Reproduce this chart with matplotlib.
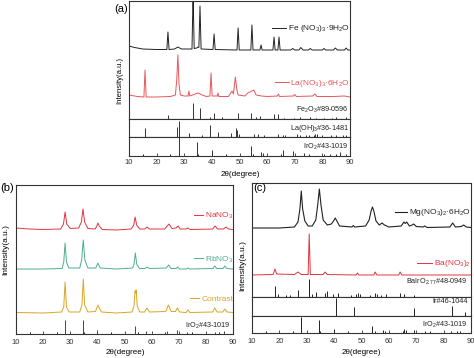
import matplotlib
matplotlib.use("Agg")
import matplotlib.pyplot as plt
from matplotlib.legend import Legend

plt.rcParams['font.family'] = ['Liberation Sans', 'DejaVu Sans', 'Noto Sans CJK SC']
plt.rcParams['mathtext.fontset'] = 'custom'
plt.rcParams['mathtext.rm'] = 'Liberation Sans'
plt.rcParams['mathtext.it'] = 'Liberation Sans:italic'
plt.rcParams['mathtext.bf'] = 'Liberation Sans:bold'

W, H = 474, 358

# ---------------- panel (a) data: (2theta, intensity a.u.) ----------------
fe_nitrate = [(10, 73), (12, 71.5), (15, 70), (20, 69.5), (23.7, 69.5), (24.1, 87), (24.5, 69.5),
              (26.5, 70), (27.7, 72), (29, 70), (32.8, 70), (33.2, 125), (33.6, 70.5), (34.5, 71),
              (35.0, 72), (35.3, 71.5), (35.7, 113), (36.1, 70), (40.4, 69.5), (40.8, 85), (41.2, 69.5),
              (49.1, 69), (49.5, 91), (49.9, 69), (54.1, 69), (54.5, 94), (54.9, 69), (57.4, 69),
              (57.8, 74), (58.2, 69), (62.1, 69), (62.5, 82), (62.9, 69), (63.9, 69), (64.3, 82),
              (64.7, 69), (68.5, 69), (69.3, 70.5), (70, 69), (71.5, 69), (72.2, 71.5), (73, 69),
              (75, 69), (75.6, 70.5), (76.3, 69), (80, 69), (80.6, 70.5), (81.2, 69), (84, 69),
              (84.7, 71), (85.4, 69), (88, 69), (88.6, 71), (89.2, 69), (90, 69)]
la_nitrate = [(10, 24), (13, 22.5), (15.4, 22), (15.8, 49), (16.2, 22), (20, 22), (25, 22.5),
              (26.8, 24), (27.3, 40), (27.7, 64), (28.1, 35), (28.6, 24), (30, 23), (31.4, 23),
              (31.7, 28), (32.0, 23), (33, 24), (35, 26), (36.5, 24), (38, 22.5), (39.3, 23),
              (39.7, 46), (40.1, 23), (42.0, 23), (42.2, 26), (42.5, 22.5), (46, 22.5), (47.3, 28),
              (47.8, 25), (48.5, 42), (49.0, 30), (49.5, 24), (52, 23), (53, 26), (55.2, 29), (56, 24),
              (58, 23), (60, 22.5), (63.7, 23), (64.1, 25), (64.5, 22.5), (69.5, 23), (70, 24.5),
              (70.6, 22.5), (76.5, 23), (77.3, 25), (78, 22.5), (84, 22.5), (88, 23), (90, 22)]
fe2o3_pos = [24.1, 33.2, 35.6, 39.3, 40.8, 43.5, 49.5, 54.1, 56.0, 57.6, 62.4, 64.0, 66.0,
             69.6, 71.9, 75.4, 77.7, 80.7, 83.5, 84.9, 88.5]
fe2o3_int = [4, 16, 11, 2, 6, 2, 6, 6, 2, 3, 5, 5, 1.5, 1.5, 2, 2, 1.5, 1.5, 1.5, 2, 2]
laoh3_pos = [15.7, 27.3, 28.0, 31.7, 36.4, 39.5, 42.2, 47.0, 48.6, 49.0, 49.9, 55.3, 56.8, 58.8,
             64.0, 65.6, 66.5, 70.7, 71.9, 74.0, 75.3, 76.8, 77.5, 78.0, 80.0, 83.0, 85.0, 87.3, 88.5]
laoh3_int = [9, 10, 16, 4, 2, 12, 5, 4, 9, 7, 3, 3, 3, 2, 3, 2, 2, 3, 2, 2, 2, 2, 3, 3, 2, 2, 2, 2, 2]
iro2_pos = [28.0, 34.7, 40.0, 54.0, 57.8, 58.6, 65.7, 69.3, 73.3, 80.6, 82.9, 86.5, 88.4]
iro2_int_a = [19, 14, 6, 10, 4, 3, 6, 5, 3, 2, 2, 4, 2]

# ---------------- panel (b) data ----------------
na_nitrate = [(10, 106), (15, 105), (20, 104.5), (26.5, 105), (27.5, 110), (28.1, 122), (28.7, 110),
              (30, 105.5), (33.1, 106), (34.1, 112), (34.7, 125), (35.3, 112), (36.5, 105.5),
              (39.2, 105), (39.8, 108), (40.2, 111), (40.7, 108), (41.8, 104.5), (47, 104), (52.5, 105),
              (53.4, 109), (53.9, 117), (54.5, 109), (55.6, 105), (57.5, 105), (58.3, 107), (59.2, 105),
              (64.8, 105), (66.4, 110), (67.5, 105.5), (69.0, 106), (69.7, 108), (70.5, 105), (72.7, 105),
              (73.4, 106), (74.2, 104.5), (82.5, 105), (83.4, 108), (84.3, 105), (86.5, 105), (87.4, 107),
              (88.3, 105), (90, 104.5)]
rb_nitrate = [(10, 65), (20, 65), (27, 65.5), (27.6, 72), (28.1, 91), (28.6, 72), (29.5, 66), (33.5, 66),
              (34.2, 74), (34.8, 94), (35.4, 74), (36.5, 66), (39.4, 66), (40.2, 71), (41, 66), (47, 65),
              (53, 66), (53.5, 70), (54, 81), (54.5, 70), (55.5, 65.5), (57.5, 65.5), (58.3, 67),
              (59.2, 65.5), (65.4, 66), (66.3, 69), (67.2, 65.5), (69, 65.5), (69.6, 67), (70.3, 65),
              (72.8, 65), (73.4, 66), (74, 65), (82.6, 65.5), (83.3, 68), (84, 65.5), (86.3, 65.5),
              (87, 68), (87.7, 65.5), (90, 65)]
contrast = [(10, 21.5), (20, 21), (26.8, 22), (27.6, 27), (28.1, 52), (28.6, 27), (29.6, 22), (33.5, 22),
            (34.3, 29), (34.8, 55), (35.3, 29), (36.5, 22), (39.3, 22.5), (39.8, 26), (40.2, 29),
            (40.7, 26), (41.5, 22), (47, 21), (52.8, 22), (53.5, 28), (53.9, 43), (54.1, 41), (54.3, 44),
            (54.7, 28), (55.6, 22), (57.4, 22), (58.3, 26), (59.2, 22), (65.2, 22.5), (66.2, 29),
            (67.2, 22.5), (68.8, 22.5), (69.5, 26), (70.3, 22), (72.7, 21.5), (73.4, 24), (74.1, 21.5),
            (82.5, 22), (83.3, 26), (84.1, 22), (86.2, 22), (87, 25), (87.8, 22), (90, 21.5)]
iro2_pos_b = [28.0, 34.7, 40.0, 54.0, 57.9, 65.8, 69.3, 73.2, 83.3, 86.6]
iro2_int_b = [14, 14, 4, 8, 3, 3, 4, 2, 2, 3]

# ---------------- panel (c) data ----------------
mg_nitrate = [(10, 69), (20, 69), (25.5, 70), (26.8, 75), (27.5, 88), (28, 106), (28.5, 88), (29.3, 76),
              (30.5, 71), (32, 71), (33.3, 77), (34, 92), (34.6, 108), (35.2, 92), (36, 77), (37.5, 72),
              (39, 73), (39.8, 76), (40.4, 79), (41, 76), (42, 71), (46.5, 70), (47, 71.5), (47.5, 70),
              (51.5, 71), (52.8, 77), (53.5, 86), (54, 90), (54.5, 86), (55.3, 76), (56.5, 72),
              (57.5, 74), (58.4, 72), (60, 70), (64.5, 71), (65.5, 75), (66, 73.5), (66.5, 75),
              (67.5, 71), (68.5, 72), (69.1, 73), (70, 70.5), (72.5, 70), (73.1, 71), (74, 69.5),
              (82.3, 70), (83.3, 74), (84.3, 70), (86.5, 70.5), (87.3, 72), (88.3, 70), (90, 69.5)]
ba_nitrate = [(10, 22), (17.7, 22.5), (18.4, 28), (19.0, 23), (25.5, 22.5), (26.8, 25), (28, 22.5),
              (30.5, 22.5), (30.9, 63), (31.3, 22.5), (36, 22.5), (36.7, 25), (37.5, 22.5), (48, 22),
              (48.5, 24), (49, 22), (54.5, 22), (55, 25), (55.6, 22), (63.6, 22), (64.1, 25), (64.7, 22),
              (90, 22)]
bairo_pos = [18.4, 19.5, 22.4, 23.8, 26.8, 31.0, 32.0, 33.4, 36.6, 37.3, 39.5, 41.4, 46.0, 48.0, 48.8,
             49.6, 53.0, 55.0, 55.8, 57.0, 59.0, 64.2, 65.5, 69.0]
bairo_int = [11, 3, 2, 2, 7, 18, 3, 5, 4, 6, 3, 4, 2, 3, 4, 3, 2, 4, 3, 2, 3, 4, 3, 2]
ir_pos = [40.7, 47.1, 69.0, 83.2, 87.8]
ir_int = [18, 9, 8, 10, 4]
iro2_pos_c = [28.0, 34.6, 40.0, 53.9, 57.9, 58.6, 65.6, 66.1, 69.1, 73.1, 82.8, 86.0]
iro2_int_c = [16, 13, 4, 7, 3, 2, 4, 3, 3, 2, 2, 2]

RED = '#e2343f'
RED2 = '#e8555c'
GREEN = '#4fae8c'
YELLOW = '#d9a625'
DARK = '#222222'


def rect(l, t, r, b):
    return [l / W, 1 - b / H, (r - l) / W, (b - t) / H]


def style(ax, ymax, bottom_ticks=False, pad=2.5):
    ax.set_xlim(10, 90)
    ax.set_ylim(0, ymax)
    for s in ax.spines.values():
        s.set_linewidth(0.8)
        s.set_color('#333333')
    ax.set_yticks([])
    if bottom_ticks:
        ax.set_xticks(range(10, 91, 10))
        ax.set_xticks(range(15, 90, 10), minor=True)
        ax.tick_params(axis='x', which='major', direction='in', length=2.5, width=0.6,
                       labelsize=5.5, pad=pad, colors='#333333')
        ax.tick_params(axis='x', which='minor', direction='in', length=1.5, width=0.6)
    else:
        ax.set_xticks([])


def curve(ax, pts, color, lw=0.7):
    x, y = zip(*pts)
    line, = ax.plot(x, y, color=color, lw=lw)
    return line


def tag(ax, line, text, y, color, handlelen=1.6):
    # one small legend per curve, placed beside it
    leg = Legend(ax, [line], [text], loc='center right', bbox_to_anchor=(1.0, y), frameon=False,
                 fontsize=6, handlelength=handlelen, handletextpad=0.2, borderpad=0,
                 borderaxespad=0, labelcolor=color)
    ax.add_artist(leg)


def ref_label(ax, text, y, x=0.995):
    ax.text(x, y, text, transform=ax.transAxes, ha='right', va='center', fontsize=5.2, color='#222222')


fig = plt.figure(figsize=(W / 100, H / 100), dpi=100)

# ---------------- (a) ----------------
a1 = fig.add_axes(rect(129, 1, 350, 119))
a2 = fig.add_axes(rect(129, 119, 350, 137))
a3 = fig.add_axes(rect(129, 137, 350, 156))
style(a1, 118)
style(a2, 18)
style(a3, 19, bottom_ticks=True, pad=2.5)
l1 = curve(a1, fe_nitrate, DARK)
l2 = curve(a1, la_nitrate, RED2)
a1.vlines(fe2o3_pos, 0, fe2o3_int, color='#333333', lw=0.7)
a2.vlines(laoh3_pos, 0, laoh3_int, color='#333333', lw=0.7)
a3.vlines(iro2_pos, 0, iro2_int_a, color='#333333', lw=0.7)
tag(a1, l1, 'Fe (NO$_3$)$_3$·9H$_2$O', 0.763, DARK, 1.7)
tag(a1, l2, 'La(NO$_3$)$_3$·6H$_2$O', 0.305, RED2, 1.6)
ref_label(a1, 'Fe$_2$O$_3$#89-0596', 0.08)
ref_label(a2, 'La(OH)$_3$#36-1481', 0.5)
ref_label(a3, 'IrO$_2$#43-1019', 0.5)
fig.text(240 / W, 1 - 175 / H, '2θ(degree)', ha='center', va='center', fontsize=5.8)
fig.text(120 / W, 1 - 80 / H, 'Intensity(a.u.)', ha='center', va='center', rotation=90, fontsize=5.6)
fig.text(121 / W, 1 - 9 / H, '(a)', ha='center', va='center', fontsize=8)

# ---------------- (b) ----------------
b = fig.add_axes(rect(16, 185, 233, 334))
style(b, 149, bottom_ticks=True, pad=3.5)
lb1 = curve(b, na_nitrate, RED)
lb2 = curve(b, rb_nitrate, GREEN)
lb3 = curve(b, contrast, YELLOW)
b.vlines(iro2_pos_b, 0, iro2_int_b, color='#444444', lw=0.7)
tag(b, lb1, 'NaNO$_3$', 0.79, RED, 1.1)
tag(b, lb2, 'RbNO$_3$', 0.50, GREEN, 1.1)
tag(b, lb3, 'Contrast', 0.235, YELLOW, 1.1)
ref_label(b, 'IrO$_2$#43-1019', 0.055, 0.99)
fig.text(125 / W, 1 - 353 / H, '2θ(degree)', ha='center', va='center', fontsize=5.8)
fig.text(6 / W, 1 - 250 / H, 'Intensity(a.u.)', ha='center', va='center', rotation=90, fontsize=6)
fig.text(7 / W, 1 - 188 / H, '(b)', ha='center', va='center', fontsize=8)

# ---------------- (c) ----------------
c1 = fig.add_axes(rect(252, 183, 471, 297))
c2 = fig.add_axes(rect(252, 297, 471, 316))
c3 = fig.add_axes(rect(252, 316, 471, 333))
style(c1, 114)
style(c2, 19)
style(c3, 17, bottom_ticks=True, pad=3.5)
lc1 = curve(c1, mg_nitrate, DARK, 0.8)
lc2 = curve(c1, ba_nitrate, RED)
c1.vlines(bairo_pos, 0, bairo_int, color='#222222', lw=0.7)
c2.vlines(ir_pos, 0, ir_int, color='#222222', lw=0.7)
c3.vlines(iro2_pos_c, 0, iro2_int_c, color='#222222', lw=0.7)
tag(c1, lc1, 'Mg(NO$_3$)$_2$·6H$_2$O', 0.737, DARK, 1.5)
tag(c1, lc2, 'Ba(NO$_3$)$_2$', 0.29, RED, 1.8)
ref_label(c1, 'BaIrO$_{2.77}$#48-0949', 0.13, 0.986)
ref_label(c2, 'Ir#46-1044', 0.74, 0.986)
ref_label(c3, 'IrO$_2$#43-1019', 0.45, 0.986)
fig.text(361 / W, 1 - 353 / H, '2θ(degree)', ha='center', va='center', fontsize=5.8)
fig.text(243 / W, 1 - 266 / H, 'Intensity(a.u.)', ha='center', va='center', rotation=90, fontsize=6)
fig.text(260 / W, 1 - 188 / H, '(c)', ha='center', va='center', fontsize=8)

fig.savefig('out.png', dpi=100)
